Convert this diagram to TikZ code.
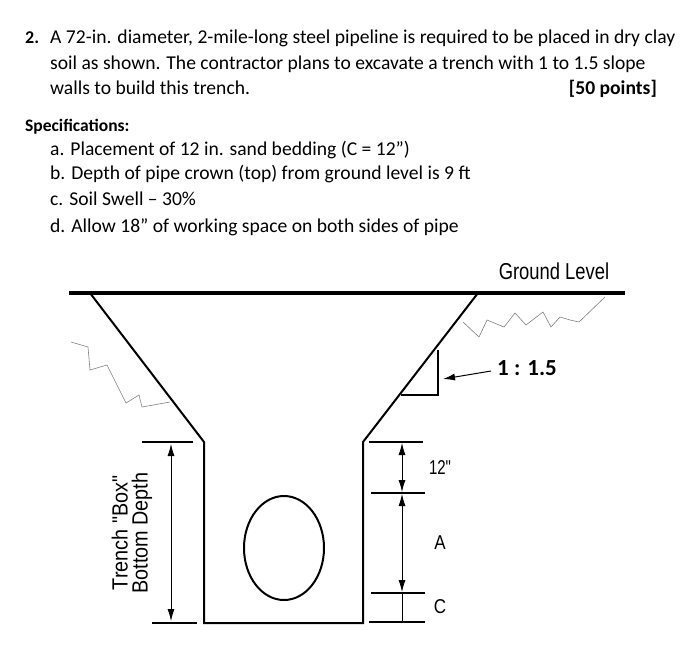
\documentclass[tikz,border=0pt]{standalone}
\usepackage{fontspec}
\setmainfont{Carlito}
\newfontfamily\arial{Liberation Sans}
\usetikzlibrary{arrows.meta,shapes.geometric}
\begin{document}
\begin{tikzpicture}[x=1pt,y=-1pt,
  txt/.style={anchor=base west,inner sep=0,font=\fontsize{19.6}{22}\selectfont},
  lbl/.style={inner sep=0,font=\arial\fontsize{20}{22}\selectfont},
  wall/.style={line width=2pt,line join=miter},
  soil/.style={gray,line width=0.6pt},
  dimtick/.style={line width=2pt},
  dimarr/.style={line width=0.8pt,{Latex[length=12pt,width=7pt]}-{Latex[length=12pt,width=7pt]}}]
\useasboundingbox (0,0) rectangle (700,667);
% text
\node[txt,font=\bfseries\fontsize{18}{22}\selectfont] (num) at (25,43) {2.};
\node[txt] (l1) at (50,43) {A 72-in. diameter, 2-mile-long steel pipeline is required to be placed in dry clay};
\node[txt] (l2) at (50,69) {soil as shown. The contractor plans to excavate a trench with 1 to 1.5 slope};
\node[txt] (l3) at (50,94) {walls to build this trench.};
\node[txt,anchor=base east,font=\bfseries\fontsize{19.6}{22}\selectfont] (pts) at (657,94) {[50 points]};
\node[txt,font=\bfseries\fontsize{17.5}{22}\selectfont] (spec) at (25,131) {Specifications:};
\node[txt] (sa) at (50,155) {a. Placement of 12 in. sand bedding (C = 12”)};
\node[txt] (sb) at (50,179) {b. Depth of pipe crown (top) from ground level is 9 ft};
\node[txt] (sc) at (50,205) {c. Soil Swell – 30\%};
\node[txt] (sd) at (50,232) {d. Allow 18” of working space on both sides of pipe};
% ground
\coordinate (g1) at (69,293); \coordinate (g2) at (625,293);
\draw[line width=4pt] (g1) -- (g2);
\node[lbl,font=\arial\fontsize{23}{24}\selectfont,xscale=0.8] (gl) at (554,271) {Ground Level};
% trench
\coordinate (tl) at (90,293); \coordinate (bl) at (204,442); \coordinate (bb) at (204,623);
\coordinate (br) at (363,623); \coordinate (brt) at (363,442); \coordinate (tr) at (478,293);
\draw[wall] (tl) -- (bl) -- (bb) -- (br) -- (brt) -- (tr);
% slope triangle
\coordinate (t1) at (438,350); \coordinate (t2) at (438,395); \coordinate (t3) at (401,395);
\draw[line width=1.5pt] (t1) -- (t2) -- (t3);
\node[inner sep=0,font=\bfseries\fontsize{23}{24}\selectfont] (slope) at (527,368) {1 : 1.5};
\coordinate (ae) at (443,379);
\draw[line width=1pt,-{Latex[length=12pt,width=7pt]}] (slope.west) ++(-6,3) coordinate (as) -- (ae);
% soil hatches
\draw[soil] (71,342) -- (88,347) -- (90,370) -- (107,365) -- (126,403) -- (139,395) -- (142,407) -- (170,402);
\draw[soil] (463,322) -- (479,337) -- (487,320) -- (504,327) -- (515,313) -- (526,325) -- (543,312) -- (551,327) -- (560,317) -- (570,320) -- (579,322) -- (605,297);
% pipe
\node[draw,line width=2pt,ellipse,minimum width=80pt,minimum height=104pt,inner sep=0] (pipe) at (284,548) {};
% left dimension
\coordinate (lt1) at (142,442); \coordinate (lt2) at (193,442);
\coordinate (lb1) at (152,623); \coordinate (lb2) at (197,623);
\draw[dimtick] (lt1) -- (lt2); \draw[dimtick] (lb1) -- (lb2);
\coordinate (la) at (171,444); \coordinate (lb) at (171,621);
\draw[dimarr] (la) -- (lb);
\node[lbl,rotate=90,align=center,font=\arial\fontsize{22}{20}\selectfont,xscale=0.9] (tbd) at (132,533) {Trench "Box"\\Bottom Depth};
% right dimension
\coordinate (r1a) at (369,442); \coordinate (r1b) at (423,442);
\coordinate (r2a) at (371,493); \coordinate (r2b) at (425,493);
\coordinate (r3a) at (371,593); \coordinate (r3b) at (425,593);
\coordinate (r4a) at (369,622); \coordinate (r4b) at (425,622);
\foreach \a/\b in {r1a/r1b,r2a/r2b,r3a/r3b,r4a/r4b} \draw[dimtick] (\a) -- (\b);
\coordinate (v1) at (402,443); \coordinate (v2) at (402,492);
\coordinate (v3) at (402,494); \coordinate (v4) at (402,592);
\coordinate (v5) at (402,594); \coordinate (v6) at (402,621);
\draw[dimarr] (v1) -- (v2);
\draw[dimarr] (v3) -- (v4);
\draw[line width=0.8pt] (v5) -- (v6);
\node[lbl,xscale=0.75] (d12) at (440,468) {12"};
\node[lbl,xscale=0.85] (dA) at (440,543) {A};
\node[lbl,xscale=0.85] (dC) at (440,607) {C};
\end{tikzpicture}
\end{document}
